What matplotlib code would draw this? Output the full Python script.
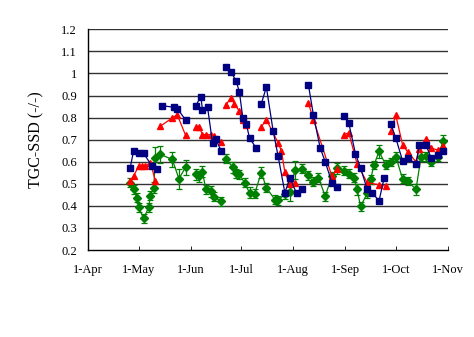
"""Seasonal TGC-SSD for three series (Apr-Nov), Excel-style scatter with lines."""

import matplotlib

matplotlib.use("Agg")
import matplotlib.dates as mdates  # noqa: E402
import matplotlib.pyplot as plt  # noqa: E402
import numpy as np  # noqa: E402
import pandas as pd  # noqa: E402

YEAR = 2006

# None marks a break in the line
blue_dates = ["04-26", "04-28", "05-01", "05-04", "05-09", "05-12", None,
              "05-15", "05-22", "05-24", "05-29", None,
              "06-04", "06-07", "06-08", "06-11", "06-14", "06-16", "06-19", None,
              "06-22", "06-25", "06-28", "06-30", "07-02", "07-04", "07-06", "07-10", None,
              "07-13", "07-16", "07-20", "07-23", "07-27", "07-30", "08-03", "08-06", None,
              "08-10", "08-13", "08-17", "08-20", "08-24", "08-27", None,
              "08-31", "09-03", "09-07", "09-10", "09-14", "09-17", "09-21", "09-24", None,
              "09-28", "10-01", "10-05", "10-08", "10-13", "10-15", "10-19", "10-22", "10-26", "10-29"]
blue_vals = [0.573, 0.648, 0.641, 0.638, 0.580, 0.568, None,
             0.854, 0.847, 0.841, 0.789, None,
             0.854, 0.895, 0.836, 0.848, 0.683, 0.701, 0.651, None,
             1.031, 1.006, 0.967, 0.914, 0.797, 0.772, 0.708, 0.661, None,
             0.863, 0.938, 0.741, 0.625, 0.460, 0.526, 0.457, 0.478, None,
             0.949, 0.811, 0.663, 0.600, 0.505, 0.486, None,
             0.806, 0.776, 0.636, 0.573, 0.475, 0.460, 0.422, 0.525, None,
             0.772, 0.707, 0.605, 0.616, 0.591, 0.676, 0.674, 0.618, 0.629, 0.647]

red_dates = ["04-26", "04-28", "05-01", "05-03", "05-05", "05-08", "05-11", None,
             "05-14", "05-21", "05-24", "05-29", None,
             "06-04", "06-06", "06-08", "06-10", "06-13", "06-15", "06-19", None,
             "06-22", "06-25", "06-27", "06-30", "07-02", "07-04", None,
             "07-13", "07-16", "07-23", "07-25", "07-27", "07-30", "08-02", None,
             "08-10", "08-13", "08-24", "08-27", None,
             "08-31", "09-03", "09-08", "09-14", "09-21", "09-25", None,
             "09-28", "10-01", "10-05", "10-08", "10-13", "10-15", "10-19", "10-22", "10-26", "10-29"]
red_vals = [0.513, 0.535, 0.580, 0.580, 0.580, 0.596, 0.513, None,
            0.761, 0.799, 0.813, 0.719, None,
            0.758, 0.758, 0.723, 0.723, 0.723, 0.716, 0.689, None,
            0.859, 0.889, 0.863, 0.828, 0.791, 0.768, None,
            0.758, 0.791, 0.686, 0.648, 0.553, 0.498, 0.505, None,
            0.866, 0.791, 0.534, 0.565, None,
            0.723, 0.731, 0.590, 0.505, 0.496, 0.489, None,
            0.738, 0.810, 0.678, 0.645, 0.600, 0.658, 0.703, 0.662, 0.653, 0.671]

green_dates = ["04-26", "04-28", "04-30", "05-01", "05-04", "05-07", "05-08", "05-10",
               "05-11", "05-14", "05-21", "05-25", "05-29", None,
               "06-04", "06-06", "06-08", "06-10", "06-13", "06-15", "06-19", None,
               "06-22", "06-26", "06-28", "06-30", "07-03", "07-06", "07-09",
               "07-13", "07-16", "07-21", "07-23", "07-27", "07-30",
               "08-02", "08-06", "08-10", "08-13", "08-16", "08-20", "08-24", "08-27", "08-31",
               "09-03", "09-06", "09-08", "09-10", "09-14", "09-16", "09-18", "09-21", "09-25", "09-28",
               "10-01", "10-05", "10-08", "10-13", "10-16", "10-19", "10-22", "10-26", "10-29"]
green_vals = [0.505, 0.475, 0.438, 0.393, 0.343, 0.394, 0.446, 0.483,
              0.618, 0.633, 0.611, 0.523, 0.576, None,
              0.543, 0.535, 0.554, 0.475, 0.466, 0.441, 0.420, None,
              0.613, 0.575, 0.548, 0.543, 0.505, 0.459, 0.455,
              0.551, 0.483, 0.429, 0.426, 0.453, 0.463,
              0.562, 0.568, 0.538, 0.509, 0.528, 0.444, 0.535, 0.571, 0.560,
              0.546, 0.528, 0.475, 0.398, 0.457, 0.520, 0.585, 0.647, 0.586, 0.599,
              0.623, 0.523, 0.513, 0.475, 0.622, 0.624, 0.601, 0.622, 0.692]
green_err = [0.02, 0.02, 0.02, 0.02, 0.02, 0.02, 0.02, 0.025,
             0.05, 0.037, 0.034, 0.045, 0.034, None,
             0.025, 0.025, 0.025, 0.02, 0.025, 0.02, 0.02, None,
             0.02, 0.025, 0.02, 0.02, 0.02, 0.025, 0.02,
             0.025, 0.02, 0.02, 0.02, 0.02, 0.04,
             0.04, 0.02, 0.02, 0.02, 0.02, 0.02, 0.02, 0.025, 0.02,
             0.02, 0.02, 0.025, 0.02, 0.02, 0.02, 0.02, 0.03, 0.02, 0.02,
             0.02, 0.02, 0.02, 0.025, 0.02, 0.02, 0.02, 0.02, 0.03]

month_starts = ["04-01", "05-01", "06-01", "07-01", "08-01", "09-01", "10-01", "11-01"]
month_labels = ["1-Apr", "1-May", "1-Jun", "1-Jul", "1-Aug", "1-Sep", "1-Oct", "1-Nov"]
y_ticks = [0.2, 0.3, 0.4, 0.5, 0.6, 0.7, 0.8, 0.9, 1.0, 1.1, 1.2]
y_tick_labels = ["0.2", "0.3", "0.4", "0.5", "0.6", "0.7", "0.8", "0.9", "1", "1.1", "1.2"]


def to_num(dates):
    return np.array([mdates.date2num(pd.Timestamp(f"{YEAR}-{d}")) if d else np.nan
                     for d in dates])


def to_arr(vals):
    return np.array([np.nan if v is None else v for v in vals], dtype=float)


plt.rcParams["font.family"] = ["Liberation Serif", "DejaVu Serif"]

fig = plt.figure(figsize=(4.74, 3.37), dpi=100)
ax = fig.add_axes([0.186, 0.258, 0.759, 0.655])

ax.errorbar(to_num(green_dates), to_arr(green_vals), yerr=to_arr(green_err),
            color="#008000", marker="D", markersize=3.6, linewidth=0.9,
            elinewidth=0.9, capsize=2.4, capthick=0.9, zorder=3)
ax.plot(to_num(red_dates), to_arr(red_vals), color="#ff0000", marker="^",
        markersize=5, linewidth=0.9, zorder=4)
ax.plot(to_num(blue_dates), to_arr(blue_vals), color="#000080", marker="s",
        markersize=4.3, linewidth=0.9, zorder=5)

xt = to_num(month_starts)
ax.set_xlim(xt[0], xt[-1])
ax.set_ylim(0.2, 1.2)
ax.set_xticks(xt)
ax.set_xticklabels(month_labels, fontsize=9)
ax.set_yticks(y_ticks)
ax.set_yticklabels(y_tick_labels, fontsize=9)
ax.tick_params(axis="x", direction="in", length=3, width=0.6, pad=10)
ax.tick_params(axis="y", length=0, pad=8)

for y in y_ticks[1:]:
    ax.axhline(y, color="#333333", linewidth=1.0, zorder=1)

for side in ("top", "right"):
    ax.spines[side].set_visible(False)
for side in ("left", "bottom"):
    ax.spines[side].set_color("black")
    ax.spines[side].set_linewidth(1.0)

ax.set_ylabel("TGC-SSD (-/-)", fontsize=11.5, labelpad=12)

fig.savefig("out.png", dpi=100)
